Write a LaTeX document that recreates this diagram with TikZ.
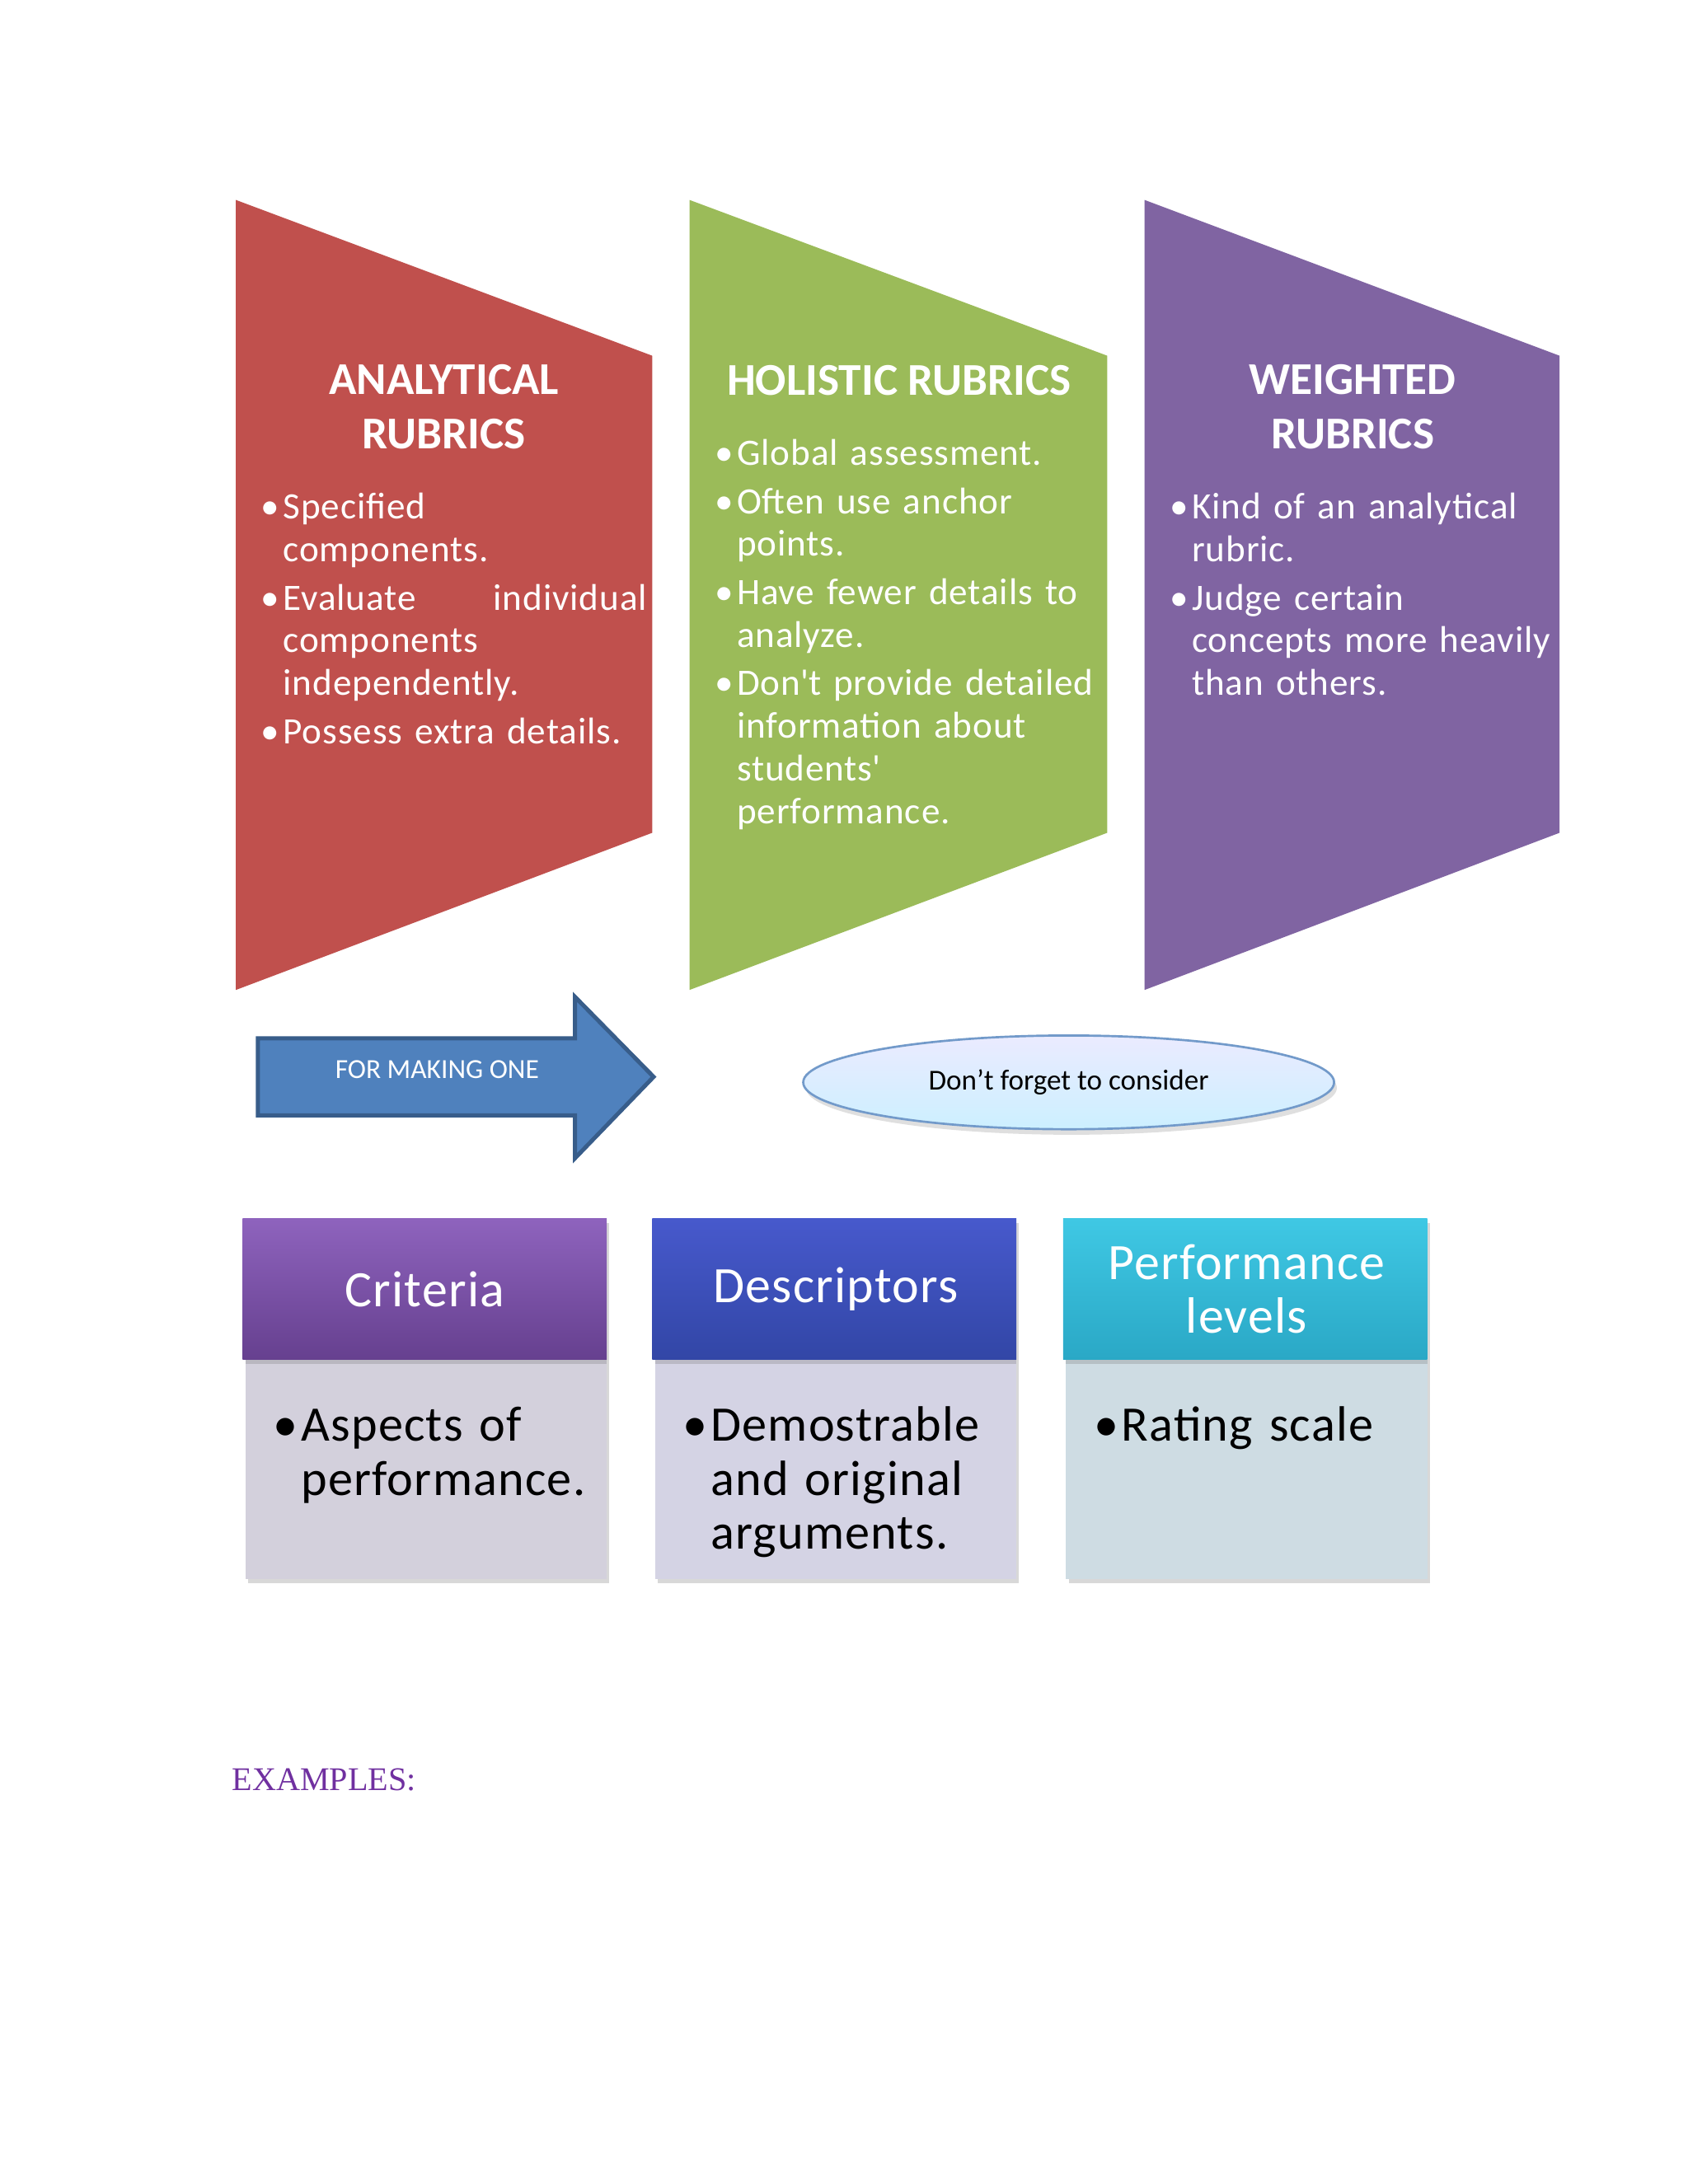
\documentclass[tikz,border=0pt]{standalone}
\usepackage{fontspec}
\setmainfont{Carlito}
\newfontfamily\serifx{Liberation Serif}
\usetikzlibrary{shapes.geometric,shadows}
\definecolor{cred}{HTML}{C0504D}
\definecolor{cgreen}{HTML}{9BBB59}
\definecolor{cpurple}{HTML}{8064A2}
\definecolor{cblue}{HTML}{4F81BD}
\definecolor{cblueb}{HTML}{385D8A}
\definecolor{exc}{HTML}{7030A0}
\newcommand{\nl}{\newline}
\newcommand{\bit}[1]{\par\hangindent=8pt\hangafter=1\noindent\makebox[8pt][l]{•}#1\par\vspace{2pt}}
\newcommand{\bbit}[1]{\par\hangindent=13pt\hangafter=1\noindent\makebox[13pt][l]{\,•}#1\par}
\tikzset{
 ttl/.style={text=white,font=\fontsize{16.5}{19.5}\selectfont\bfseries,align=center,anchor=center},
 lst/.style={text=white,font=\fontsize{13.5}{15.5}\selectfont\addfontfeatures{LetterSpace=2}\raggedright,anchor=north west,inner sep=0pt,text width=140pt},
 hdr/.style={text=white,font=\fontsize{18.5}{19.5}\selectfont\addfontfeatures{LetterSpace=2},align=center},
 bod/.style={font=\fontsize{18}{19.5}\selectfont\addfontfeatures{LetterSpace=2}\raggedright,anchor=north west,inner sep=0pt,text width=130pt},
}
\begin{document}
\begin{tikzpicture}[x=0.5pt,y=-0.5pt]
\useasboundingbox[fill=white] (0,0) rectangle (1224,1584);
% chevrons
\fill[cred] (171,145) -- (473,258) -- (473,604) -- (171,718) -- cycle;
\fill[cgreen] (500,145) -- (803,258) -- (803,604) -- (500,718) -- cycle;
\fill[cpurple] (830,145) -- (1131,258) -- (1131,604) -- (830,718) -- cycle;
\node[ttl] (t1) at (322,295) {ANALYTICAL\\RUBRICS};
\node[ttl] (t2) at (652,276) {HOLISTIC RUBRICS};
\node[ttl] (t3) at (981,295) {WEIGHTED\\RUBRICS};
\node[lst] (l1) at (189,345) {\bit{Specified\nl components.}\bit{Evaluate\hfill individual\nl components\nl independently.}\bit{Possess extra details.}};
\node[lst] (l2) at (518,306) {\bit{Global assessment.}\bit{Often use anchor\nl points.}\bit{Have fewer details to\nl analyze.}\bit{Don\textquotesingle t provide detailed\nl information about\nl students\textquotesingle\nl performance.}};
\node[lst] (l3) at (848,345) {\bit{Kind of an analytical\nl rubric.}\bit{Judge certain\nl concepts more heavily\nl than others.}};
% arrow
\draw[fill=cblue,draw=cblueb,line width=1.5pt,line join=miter] (187,753) -- (417,753) -- (417,723) -- (474,781) -- (417,840) -- (417,809) -- (187,809) -- cycle;
\node[text=white,font=\fontsize{10}{12}\selectfont] (arr) at (317,776) {FOR MAKING ONE};
% ellipse
\node[ellipse,minimum width=192.5pt,minimum height=34pt,draw=cblue!80,line width=0.8pt,top color=blue!8,bottom color=blue!30!cyan!20,drop shadow={opacity=0.25,shadow xshift=1pt,shadow yshift=-2pt},font=\fontsize{10.5}{12}\selectfont] (ell) at (775,785) {Don’t forget to consider};
% boxes
\foreach \x/\tc/\bc/\fc in {176/8E63BD/66408F/D3D0DC,473/4759CC/3246A6/D4D3E4,771/3FC8E4/2AA8C6/CEDCE3}{
  \definecolor{tcc}{HTML}{\tc}\definecolor{bcc}{HTML}{\bc}\definecolor{fcc}{HTML}{\fc}
  \fill[fcc,drop shadow={opacity=0.3,shadow xshift=1pt,shadow yshift=-1.5pt}] (\x+2,986) rectangle (\x+264,1145);
  \shade[top color=tcc,bottom color=bcc,drop shadow={opacity=0.3,shadow xshift=1pt,shadow yshift=-1.5pt}] (\x,884) rectangle (\x+264,986);
}
\node[hdr] (h1) at (308,935) {Criteria};
\node[hdr] (h2) at (606,935) {Descriptors};
\node[hdr] (h3) at (904,935) {Performance\\levels};
\node[bod] (b1) at (192,1006) {\bbit{Aspects of\nl performance.}};
\node[bod] (b2) at (489,1006) {\bbit{Demostrable\nl and original\nl arguments.}};
\node[bod] (b3) at (787,1006) {\bbit{Rating scale}};
\node[anchor=west,text=exc,font=\serifx\fontsize{12}{14}\selectfont,inner sep=0pt] (ex) at (168,1291) {EXAMPLES:};
\end{tikzpicture}
\end{document}
